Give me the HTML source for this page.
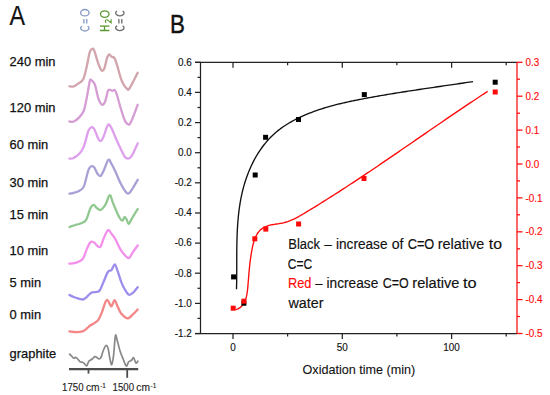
<!DOCTYPE html>
<html><head><meta charset="utf-8"><style>
html,body{margin:0;padding:0;background:#fff;width:550px;height:395px;overflow:hidden;}
#root{position:relative;width:550px;height:395px;font-family:"Liberation Sans",sans-serif;}
svg{position:absolute;left:0;top:0;display:block;}
</style></head><body><div id="root">
<svg width="550" height="395" viewBox="0 0 550 395">
<path d="M69.4,86.3 C70.1,86.3 72.2,87.0 73.7,86.5 C75.2,86.0 76.5,84.8 78.1,83.6 C79.7,82.4 81.8,82.2 83.2,79.3 C84.7,76.4 85.7,70.7 86.8,66.2 C87.9,61.7 88.8,55.3 89.7,52.4 C90.6,49.5 91.2,49.4 91.9,49.0 C92.6,48.6 93.1,48.1 94.1,50.2 C95.1,52.3 96.5,58.4 97.7,61.8 C98.9,65.1 100.3,69.2 101.4,70.3 C102.5,71.4 103.3,70.5 104.3,68.4 C105.3,66.3 106.3,59.8 107.2,57.5 C108.1,55.2 108.7,54.6 109.4,54.5 C110.1,54.4 110.7,56.1 111.5,56.7 C112.3,57.3 113.5,56.6 114.5,58.2 C115.5,59.8 116.2,62.5 117.4,66.2 C118.6,70.0 120.1,77.0 121.7,80.7 C123.3,84.5 125.5,87.5 126.8,88.7 C128.1,89.9 127.9,90.7 129.7,88.0 C131.5,85.3 136.4,75.2 137.7,72.7" fill="none" stroke="#d2a4ac" stroke-width="2.3" stroke-linejoin="round" stroke-linecap="round"/>
<path d="M69.4,121.5 C70.1,121.5 72.0,122.2 73.7,121.5 C75.4,120.8 77.8,118.9 79.5,117.1 C81.2,115.3 82.7,113.8 83.9,110.5 C85.1,107.2 85.8,102.3 86.8,97.5 C87.8,92.7 89.0,84.4 89.7,81.5 C90.4,78.6 90.4,79.5 91.2,80.0 C92.0,80.5 93.6,81.2 94.8,84.4 C96.0,87.6 97.3,95.5 98.5,98.9 C99.7,102.3 101.0,104.2 102.1,104.7 C103.2,105.2 104.0,104.1 105.0,101.8 C106.0,99.5 107.1,92.9 107.9,90.9 C108.8,88.9 109.4,89.9 110.1,89.9 C110.8,89.9 111.6,90.9 112.3,90.9 C113.0,90.9 113.8,89.4 114.5,89.9 C115.2,90.4 115.6,91.0 116.6,93.8 C117.6,96.6 119.0,102.5 120.3,106.9 C121.6,111.3 123.3,117.1 124.6,120.0 C125.9,122.9 127.2,124.2 128.3,124.4 C129.4,124.7 129.6,124.8 131.2,121.5 C132.8,118.2 136.6,107.5 137.7,104.7" fill="none" stroke="#d69cd4" stroke-width="2.3" stroke-linejoin="round" stroke-linecap="round"/>
<path d="M69.4,158.6 C70.1,158.5 72.0,158.8 73.7,157.9 C75.4,157.1 77.8,155.4 79.5,153.5 C81.2,151.6 82.4,150.1 83.9,146.3 C85.4,142.6 87.1,134.2 88.3,131.0 C89.5,127.8 90.2,127.8 91.2,127.4 C92.2,127.0 93.0,127.1 94.1,128.8 C95.2,130.5 96.6,135.4 97.7,137.5 C98.8,139.6 99.6,141.3 100.6,141.2 C101.6,141.1 102.3,139.5 103.5,136.8 C104.7,134.1 106.6,126.4 107.9,124.9 C109.2,123.5 110.3,126.1 111.5,128.1 C112.7,130.1 113.9,133.8 115.2,136.8 C116.5,139.8 117.9,143.0 119.5,146.3 C121.1,149.6 123.1,154.4 124.6,156.5 C126.1,158.6 127.1,158.7 128.3,158.6 C129.5,158.5 130.3,158.2 131.9,155.7 C133.5,153.2 136.7,145.4 137.7,143.4" fill="none" stroke="#de9fec" stroke-width="2.3" stroke-linejoin="round" stroke-linecap="round"/>
<path d="M69.4,193.6 C70.1,193.5 72.0,193.4 73.7,192.9 C75.4,192.4 77.8,191.8 79.5,190.7 C81.2,189.6 82.4,189.8 83.9,186.4 C85.4,183.0 87.1,173.8 88.3,170.4 C89.5,167.1 90.2,166.8 91.2,166.3 C92.2,165.8 93.0,165.9 94.1,167.2 C95.2,168.5 96.6,172.6 97.7,174.0 C98.8,175.4 99.6,176.4 100.6,175.9 C101.6,175.4 102.2,173.8 103.5,171.1 C104.8,168.4 107.0,161.1 108.3,159.9 C109.6,158.7 110.3,161.9 111.5,163.8 C112.7,165.7 113.7,167.9 115.2,171.1 C116.7,174.2 118.5,179.2 120.3,182.7 C122.1,186.2 124.6,190.4 126.1,192.2 C127.5,194.0 127.9,193.9 129.0,193.3 C130.1,192.7 131.2,190.8 132.6,188.5 C134.0,186.2 136.8,181.2 137.7,179.8" fill="none" stroke="#a9a1d6" stroke-width="2.3" stroke-linejoin="round" stroke-linecap="round"/>
<path d="M69.5,227.0 C70.0,226.8 71.6,226.2 72.6,225.9 C73.6,225.6 74.3,225.3 75.4,225.0 C76.5,224.7 77.8,224.4 79.1,224.0 C80.3,223.6 81.7,223.3 82.9,222.6 C84.1,221.9 85.2,221.3 86.1,219.8 C87.0,218.3 87.8,215.6 88.5,213.7 C89.2,211.8 89.6,209.6 90.4,208.1 C91.2,206.6 92.5,204.8 93.6,204.8 C94.7,204.8 95.7,207.2 96.9,208.1 C98.1,209.0 99.5,210.3 100.7,210.0 C102.0,209.7 103.4,207.4 104.4,206.2 C105.4,204.9 105.8,204.1 106.5,202.5 C107.2,200.9 107.9,197.8 108.6,196.6 C109.2,195.4 109.8,194.8 110.4,195.5 C111.0,196.2 111.5,198.9 112.3,201.0 C113.1,203.1 114.0,205.5 115.2,208.3 C116.4,211.1 118.3,215.6 119.5,217.7 C120.7,219.8 121.7,220.7 122.5,220.6 C123.3,220.5 123.9,217.1 124.6,217.0 C125.3,216.9 126.1,218.7 126.8,219.9 C127.5,221.1 127.8,224.2 128.7,224.0 C129.5,223.8 130.4,221.0 131.9,218.5 C133.4,216.0 136.7,210.6 137.7,209.0" fill="none" stroke="#90c890" stroke-width="2.3" stroke-linejoin="round" stroke-linecap="round"/>
<path d="M69.4,263.6 C70.4,263.5 73.0,263.6 75.2,262.9 C77.4,262.2 80.6,261.6 82.5,259.3 C84.4,257.0 85.5,252.0 86.8,249.1 C88.1,246.2 89.3,243.2 90.5,242.1 C91.7,241.0 92.9,241.8 94.1,242.5 C95.3,243.2 96.6,245.5 97.7,246.2 C98.8,246.9 99.6,247.7 100.6,246.5 C101.6,245.3 102.3,241.6 103.5,238.9 C104.7,236.2 106.6,231.0 107.9,230.2 C109.2,229.3 110.3,232.4 111.5,233.8 C112.7,235.2 113.7,236.4 115.2,238.9 C116.7,241.4 118.7,246.4 120.3,249.1 C121.9,251.8 123.1,253.4 124.6,254.9 C126.0,256.4 127.7,258.5 129.0,258.1 C130.3,257.7 131.2,254.8 132.6,252.7 C134.0,250.6 136.8,246.7 137.7,245.5" fill="none" stroke="#f390ec" stroke-width="2.3" stroke-linejoin="round" stroke-linecap="round"/>
<path d="M69.4,295.0 C70.4,295.4 73.0,296.8 75.2,297.5 C77.4,298.2 80.6,299.6 82.5,299.5 C84.4,299.4 85.3,298.1 86.8,297.0 C88.2,295.9 89.7,293.5 91.2,292.7 C92.7,291.9 94.6,292.4 96.0,292.0 C97.4,291.6 98.5,292.2 99.7,290.5 C101.0,288.8 102.1,285.1 103.5,282.0 C104.9,278.9 106.6,274.0 107.9,272.0 C109.2,270.0 110.4,271.3 111.5,270.0 C112.6,268.7 113.7,264.2 114.7,264.3 C115.7,264.4 116.4,267.6 117.4,270.4 C118.5,273.2 119.8,278.2 121.0,281.3 C122.2,284.4 123.3,286.8 124.6,289.0 C125.9,291.2 127.5,294.1 129.0,294.7 C130.5,295.3 132.0,293.6 133.4,292.4 C134.8,291.1 137.0,288.1 137.7,287.2" fill="none" stroke="#9c8eec" stroke-width="2.3" stroke-linejoin="round" stroke-linecap="round"/>
<path d="M69.4,331.4 C70.6,331.5 74.3,332.2 76.6,332.1 C78.9,332.1 81.5,331.7 83.2,331.1 C84.9,330.5 85.6,329.5 86.8,328.5 C88.0,327.5 89.2,326.2 90.5,325.3 C91.8,324.4 93.5,323.8 94.8,322.9 C96.1,322.0 97.3,321.6 98.5,319.7 C99.7,317.8 100.9,314.7 102.1,311.7 C103.3,308.7 104.7,303.4 105.7,301.5 C106.7,299.6 107.0,299.7 107.9,300.5 C108.8,301.3 110.2,306.4 111.3,306.3 C112.4,306.2 113.5,300.2 114.5,300.1 C115.5,300.0 116.3,303.7 117.4,305.9 C118.5,308.1 119.3,311.1 121.0,313.2 C122.7,315.3 125.7,317.9 127.5,318.3 C129.3,318.7 130.2,316.9 131.9,315.4 C133.6,313.9 136.7,310.5 137.7,309.5" fill="none" stroke="#f38686" stroke-width="2.3" stroke-linejoin="round" stroke-linecap="round"/>
<path d="M69.6,354.2 C69.9,354.5 71.0,355.5 71.7,356.2 C72.4,356.9 73.0,358.0 73.7,358.2 C74.4,358.4 75.0,357.3 75.7,357.4 C76.4,357.5 77.0,358.2 77.7,359.0 C78.5,359.8 79.4,361.3 80.2,361.9 C81.0,362.4 81.9,362.0 82.6,362.3 C83.3,362.6 83.9,363.3 84.6,363.9 C85.3,364.5 85.9,366.3 86.6,365.9 C87.3,365.5 88.1,362.4 88.7,361.5 C89.3,360.6 89.7,360.6 90.3,360.2 C90.9,359.8 91.6,359.6 92.3,359.0 C93.0,358.4 94.0,356.9 94.7,356.6 C95.5,356.3 96.0,357.0 96.8,357.4 C97.5,357.8 98.5,359.1 99.2,359.0 C99.9,358.9 100.6,358.1 101.2,357.0 C101.8,355.9 102.1,354.0 102.6,352.5 C103.1,351.0 103.8,349.0 104.4,347.8 C105.0,346.6 105.7,345.3 106.3,345.4 C106.9,345.5 107.5,346.2 108.1,348.4 C108.7,350.6 109.3,356.0 109.9,358.7 C110.5,361.4 111.1,365.2 111.7,364.6 C112.3,364.0 113.0,359.9 113.6,355.1 C114.2,350.3 114.8,338.0 115.4,335.6 C116.0,333.2 116.4,337.9 117.2,340.5 C118.0,343.1 119.2,348.4 120.2,351.5 C121.2,354.6 122.3,357.0 123.3,359.4 C124.3,361.8 125.4,365.6 126.3,366.0 C127.2,366.4 127.8,362.8 128.7,361.8 C129.6,360.8 131.0,360.7 131.8,360.0 C132.6,359.3 132.9,357.3 133.6,357.8 C134.3,358.3 135.3,362.4 136.0,363.0 C136.7,363.6 137.6,361.5 137.9,361.2" fill="none" stroke="#888888" stroke-width="1.7" stroke-linejoin="round" stroke-linecap="round"/>
<line x1="69" y1="369.1" x2="138.2" y2="369.1" stroke="#4c4c4c" stroke-width="2.2"/>
<line x1="88.5" y1="369" x2="88.5" y2="373.6" stroke="#4c4c4c" stroke-width="1.8"/>
<line x1="127.2" y1="369" x2="127.2" y2="377.8" stroke="#4c4c4c" stroke-width="1.8"/>
<line x1="195.0" y1="62.3" x2="517.0" y2="62.3" stroke="#222" stroke-width="1.25"/>
<line x1="195.0" y1="333.5" x2="517.0" y2="333.5" stroke="#222" stroke-width="1.25"/>
<line x1="200.5" y1="62.3" x2="200.5" y2="333.5" stroke="#222" stroke-width="1.25"/>
<line x1="195.0" y1="62.3" x2="200.5" y2="62.3" stroke="#222" stroke-width="1.25"/>
<line x1="197.5" y1="77.4" x2="200.5" y2="77.4" stroke="#222" stroke-width="1.25"/>
<line x1="195.0" y1="92.4" x2="200.5" y2="92.4" stroke="#222" stroke-width="1.25"/>
<line x1="197.5" y1="107.5" x2="200.5" y2="107.5" stroke="#222" stroke-width="1.25"/>
<line x1="195.0" y1="122.6" x2="200.5" y2="122.6" stroke="#222" stroke-width="1.25"/>
<line x1="197.5" y1="137.6" x2="200.5" y2="137.6" stroke="#222" stroke-width="1.25"/>
<line x1="195.0" y1="152.7" x2="200.5" y2="152.7" stroke="#222" stroke-width="1.25"/>
<line x1="197.5" y1="167.8" x2="200.5" y2="167.8" stroke="#222" stroke-width="1.25"/>
<line x1="195.0" y1="182.8" x2="200.5" y2="182.8" stroke="#222" stroke-width="1.25"/>
<line x1="197.5" y1="197.9" x2="200.5" y2="197.9" stroke="#222" stroke-width="1.25"/>
<line x1="195.0" y1="213.0" x2="200.5" y2="213.0" stroke="#222" stroke-width="1.25"/>
<line x1="197.5" y1="228.0" x2="200.5" y2="228.0" stroke="#222" stroke-width="1.25"/>
<line x1="195.0" y1="243.1" x2="200.5" y2="243.1" stroke="#222" stroke-width="1.25"/>
<line x1="197.5" y1="258.2" x2="200.5" y2="258.2" stroke="#222" stroke-width="1.25"/>
<line x1="195.0" y1="273.2" x2="200.5" y2="273.2" stroke="#222" stroke-width="1.25"/>
<line x1="197.5" y1="288.3" x2="200.5" y2="288.3" stroke="#222" stroke-width="1.25"/>
<line x1="195.0" y1="303.4" x2="200.5" y2="303.4" stroke="#222" stroke-width="1.25"/>
<line x1="197.5" y1="318.4" x2="200.5" y2="318.4" stroke="#222" stroke-width="1.25"/>
<line x1="195.0" y1="333.5" x2="200.5" y2="333.5" stroke="#222" stroke-width="1.25"/>
<line x1="233.0" y1="333.5" x2="233.0" y2="339.0" stroke="#222" stroke-width="1.25"/>
<line x1="233.0" y1="62.3" x2="233.0" y2="67.8" stroke="#222" stroke-width="1.25"/>
<line x1="287.6" y1="333.5" x2="287.6" y2="336.5" stroke="#222" stroke-width="1.25"/>
<line x1="287.6" y1="62.3" x2="287.6" y2="65.3" stroke="#222" stroke-width="1.25"/>
<line x1="342.3" y1="333.5" x2="342.3" y2="339.0" stroke="#222" stroke-width="1.25"/>
<line x1="342.3" y1="62.3" x2="342.3" y2="67.8" stroke="#222" stroke-width="1.25"/>
<line x1="396.9" y1="333.5" x2="396.9" y2="336.5" stroke="#222" stroke-width="1.25"/>
<line x1="396.9" y1="62.3" x2="396.9" y2="65.3" stroke="#222" stroke-width="1.25"/>
<line x1="451.6" y1="333.5" x2="451.6" y2="339.0" stroke="#222" stroke-width="1.25"/>
<line x1="451.6" y1="62.3" x2="451.6" y2="67.8" stroke="#222" stroke-width="1.25"/>
<line x1="506.2" y1="333.5" x2="506.2" y2="336.5" stroke="#222" stroke-width="1.25"/>
<line x1="506.2" y1="62.3" x2="506.2" y2="65.3" stroke="#222" stroke-width="1.25"/>
<line x1="517.0" y1="62.3" x2="517.0" y2="333.5" stroke="#ff0a0a" stroke-width="1.25"/>
<line x1="517.0" y1="62.3" x2="522.5" y2="62.3" stroke="#ff0a0a" stroke-width="1.25"/>
<line x1="517.0" y1="79.2" x2="520.0" y2="79.2" stroke="#ff0a0a" stroke-width="1.25"/>
<line x1="517.0" y1="96.2" x2="522.5" y2="96.2" stroke="#ff0a0a" stroke-width="1.25"/>
<line x1="517.0" y1="113.2" x2="520.0" y2="113.2" stroke="#ff0a0a" stroke-width="1.25"/>
<line x1="517.0" y1="130.1" x2="522.5" y2="130.1" stroke="#ff0a0a" stroke-width="1.25"/>
<line x1="517.0" y1="147.0" x2="520.0" y2="147.0" stroke="#ff0a0a" stroke-width="1.25"/>
<line x1="517.0" y1="164.0" x2="522.5" y2="164.0" stroke="#ff0a0a" stroke-width="1.25"/>
<line x1="517.0" y1="180.9" x2="520.0" y2="180.9" stroke="#ff0a0a" stroke-width="1.25"/>
<line x1="517.0" y1="197.9" x2="522.5" y2="197.9" stroke="#ff0a0a" stroke-width="1.25"/>
<line x1="517.0" y1="214.8" x2="520.0" y2="214.8" stroke="#ff0a0a" stroke-width="1.25"/>
<line x1="517.0" y1="231.8" x2="522.5" y2="231.8" stroke="#ff0a0a" stroke-width="1.25"/>
<line x1="517.0" y1="248.8" x2="520.0" y2="248.8" stroke="#ff0a0a" stroke-width="1.25"/>
<line x1="517.0" y1="265.7" x2="522.5" y2="265.7" stroke="#ff0a0a" stroke-width="1.25"/>
<line x1="517.0" y1="282.6" x2="520.0" y2="282.6" stroke="#ff0a0a" stroke-width="1.25"/>
<line x1="517.0" y1="299.6" x2="522.5" y2="299.6" stroke="#ff0a0a" stroke-width="1.25"/>
<line x1="517.0" y1="316.5" x2="520.0" y2="316.5" stroke="#ff0a0a" stroke-width="1.25"/>
<line x1="517.0" y1="333.5" x2="522.5" y2="333.5" stroke="#ff0a0a" stroke-width="1.25"/>
<g transform="translate(191.80,65.60) scale(0.900,1)"><text x="0" y="0" text-anchor="end" font-family="Liberation Sans" font-size="11" fill="#111" stroke="#111" stroke-width="0.15">0.6</text></g>
<g transform="translate(191.80,95.73) scale(0.900,1)"><text x="0" y="0" text-anchor="end" font-family="Liberation Sans" font-size="11" fill="#111" stroke="#111" stroke-width="0.15">0.4</text></g>
<g transform="translate(191.80,125.87) scale(0.900,1)"><text x="0" y="0" text-anchor="end" font-family="Liberation Sans" font-size="11" fill="#111" stroke="#111" stroke-width="0.15">0.2</text></g>
<g transform="translate(191.80,156.00) scale(0.900,1)"><text x="0" y="0" text-anchor="end" font-family="Liberation Sans" font-size="11" fill="#111" stroke="#111" stroke-width="0.15">0.0</text></g>
<g transform="translate(191.80,186.13) scale(0.900,1)"><text x="0" y="0" text-anchor="end" font-family="Liberation Sans" font-size="11" fill="#111" stroke="#111" stroke-width="0.15">-0.2</text></g>
<g transform="translate(191.80,216.27) scale(0.900,1)"><text x="0" y="0" text-anchor="end" font-family="Liberation Sans" font-size="11" fill="#111" stroke="#111" stroke-width="0.15">-0.4</text></g>
<g transform="translate(191.80,246.40) scale(0.900,1)"><text x="0" y="0" text-anchor="end" font-family="Liberation Sans" font-size="11" fill="#111" stroke="#111" stroke-width="0.15">-0.6</text></g>
<g transform="translate(191.80,276.53) scale(0.900,1)"><text x="0" y="0" text-anchor="end" font-family="Liberation Sans" font-size="11" fill="#111" stroke="#111" stroke-width="0.15">-0.8</text></g>
<g transform="translate(191.80,306.67) scale(0.900,1)"><text x="0" y="0" text-anchor="end" font-family="Liberation Sans" font-size="11" fill="#111" stroke="#111" stroke-width="0.15">-1.0</text></g>
<g transform="translate(191.80,336.80) scale(0.900,1)"><text x="0" y="0" text-anchor="end" font-family="Liberation Sans" font-size="11" fill="#111" stroke="#111" stroke-width="0.15">-1.2</text></g>
<g transform="translate(525.50,65.90) scale(0.900,1)"><text x="0" y="0" text-anchor="start" font-family="Liberation Sans" font-size="11" fill="#ff0a0a" stroke="#ff0a0a" stroke-width="0.15">0.3</text></g>
<g transform="translate(525.50,99.80) scale(0.900,1)"><text x="0" y="0" text-anchor="start" font-family="Liberation Sans" font-size="11" fill="#ff0a0a" stroke="#ff0a0a" stroke-width="0.15">0.2</text></g>
<g transform="translate(525.50,133.70) scale(0.900,1)"><text x="0" y="0" text-anchor="start" font-family="Liberation Sans" font-size="11" fill="#ff0a0a" stroke="#ff0a0a" stroke-width="0.15">0.1</text></g>
<g transform="translate(525.50,167.60) scale(0.900,1)"><text x="0" y="0" text-anchor="start" font-family="Liberation Sans" font-size="11" fill="#ff0a0a" stroke="#ff0a0a" stroke-width="0.15">0.0</text></g>
<g transform="translate(525.50,201.50) scale(0.900,1)"><text x="0" y="0" text-anchor="start" font-family="Liberation Sans" font-size="11" fill="#ff0a0a" stroke="#ff0a0a" stroke-width="0.15">-0.1</text></g>
<g transform="translate(525.50,235.40) scale(0.900,1)"><text x="0" y="0" text-anchor="start" font-family="Liberation Sans" font-size="11" fill="#ff0a0a" stroke="#ff0a0a" stroke-width="0.15">-0.2</text></g>
<g transform="translate(525.50,269.30) scale(0.900,1)"><text x="0" y="0" text-anchor="start" font-family="Liberation Sans" font-size="11" fill="#ff0a0a" stroke="#ff0a0a" stroke-width="0.15">-0.3</text></g>
<g transform="translate(525.50,303.20) scale(0.900,1)"><text x="0" y="0" text-anchor="start" font-family="Liberation Sans" font-size="11" fill="#ff0a0a" stroke="#ff0a0a" stroke-width="0.15">-0.4</text></g>
<g transform="translate(525.50,337.10) scale(0.900,1)"><text x="0" y="0" text-anchor="start" font-family="Liberation Sans" font-size="11" fill="#ff0a0a" stroke="#ff0a0a" stroke-width="0.15">-0.5</text></g>
<g transform="translate(233.00,351.30) scale(0.900,1)"><text x="0" y="0" text-anchor="middle" font-family="Liberation Sans" font-size="11" fill="#111" stroke="#111" stroke-width="0.15">0</text></g>
<g transform="translate(342.30,351.30) scale(0.900,1)"><text x="0" y="0" text-anchor="middle" font-family="Liberation Sans" font-size="11" fill="#111" stroke="#111" stroke-width="0.15">50</text></g>
<g transform="translate(451.60,351.30) scale(0.900,1)"><text x="0" y="0" text-anchor="middle" font-family="Liberation Sans" font-size="11" fill="#111" stroke="#111" stroke-width="0.15">100</text></g>
<g transform="translate(358.90,373.60) scale(0.970,1)"><text x="0" y="0" text-anchor="middle" font-family="Liberation Sans" font-size="13" fill="#111" stroke="#111" stroke-width="0.1">Oxidation time (min)</text></g>
<path d="M236.49,289.19 L236.54,287.35 L236.59,285.51 L236.62,283.67 L236.65,281.82 L236.68,279.98 L236.70,278.12 L236.72,276.27 L236.73,274.41 L236.74,272.55 L236.74,270.68 L236.75,268.81 L236.75,266.94 L236.75,265.07 L236.75,263.20 L236.75,261.33 L236.76,259.45 L236.76,257.57 L236.76,255.69 L236.77,253.81 L236.78,251.93 L236.80,250.05 L236.82,248.16 L236.84,246.28 L236.87,244.40 L236.91,242.51 L236.95,240.63 L237.00,238.74 L237.06,236.86 L237.12,234.98 L237.20,233.09 L237.28,231.21 L237.38,229.33 L237.48,227.45 L237.60,225.57 L237.73,223.69 L237.87,221.82 L238.02,219.94 L238.19,218.07 L238.37,216.20 L238.56,214.33 L238.78,212.47 L239.00,210.60 L239.25,208.74 L239.51,206.88 L239.79,205.03 L240.08,203.18 L240.40,201.33 L240.74,199.48 L241.09,197.64 L241.47,195.80 L241.86,193.97 L242.28,192.14 L242.72,190.32 L243.19,188.49 L243.67,186.68 L244.19,184.87 L244.72,183.06 L245.28,181.26 L245.87,179.47 L246.48,177.68 L247.11,175.90 L247.77,174.14 L248.45,172.38 L249.16,170.63 L249.90,168.90 L250.66,167.17 L251.45,165.46 L252.26,163.77 L253.09,162.09 L253.96,160.42 L254.85,158.77 L255.76,157.14 L256.71,155.52 L257.68,153.93 L258.67,152.35 L259.69,150.79 L260.74,149.26 L261.82,147.74 L262.92,146.25 L264.06,144.78 L265.21,143.34 L266.40,141.92 L267.61,140.52 L268.86,139.15 L270.13,137.81 L271.42,136.50 L272.75,135.21 L274.11,133.96 L275.49,132.73 L276.90,131.54 L278.34,130.37 L279.81,129.24 L281.30,128.13 L282.81,127.06 L284.35,126.01 L285.91,124.98 L287.49,123.99 L289.09,123.02 L290.71,122.08 L292.34,121.16 L294.00,120.26 L295.66,119.39 L297.35,118.54 L299.04,117.72 L300.75,116.92 L302.46,116.14 L304.19,115.38 L305.92,114.64 L307.66,113.92 L309.41,113.21 L311.16,112.53 L312.93,111.87 L314.69,111.22 L316.46,110.59 L318.24,109.98 L320.02,109.38 L321.81,108.80 L323.61,108.24 L325.40,107.69 L327.20,107.15 L329.01,106.63 L330.82,106.12 L332.64,105.63 L334.45,105.14 L336.27,104.67 L338.10,104.21 L339.93,103.76 L341.76,103.33 L343.59,102.90 L345.42,102.48 L347.26,102.07 L349.10,101.67 L350.94,101.27 L352.78,100.89 L354.62,100.51 L356.47,100.14 L358.31,99.77 L360.16,99.41 L362.01,99.05 L363.85,98.70 L365.70,98.35 L367.54,98.01 L369.39,97.67 L371.23,97.33 L373.08,97.00 L374.92,96.67 L376.77,96.34 L378.61,96.02 L380.46,95.70 L382.30,95.38 L384.15,95.06 L385.99,94.75 L387.83,94.44 L389.68,94.13 L391.52,93.83 L393.37,93.52 L395.21,93.22 L397.06,92.93 L398.90,92.63 L400.75,92.34 L402.59,92.04 L404.44,91.75 L406.28,91.47 L408.13,91.18 L409.97,90.89 L411.82,90.61 L413.67,90.33 L415.51,90.05 L417.36,89.77 L419.21,89.49 L421.06,89.21 L422.90,88.94 L424.75,88.66 L426.60,88.39 L428.45,88.11 L430.30,87.84 L432.16,87.57 L434.01,87.30 L435.86,87.03 L437.71,86.76 L439.57,86.49 L441.42,86.22 L443.28,85.95 L445.14,85.68 L446.99,85.41 L448.85,85.14 L450.71,84.87 L452.57,84.60 L454.43,84.32 L456.29,84.05 L458.15,83.78 L460.02,83.51 L461.88,83.23 L463.75,82.96 L465.61,82.69 L467.48,82.41 L469.35,82.13 L471.22,81.85 L473.09,81.58" fill="none" stroke="#111" stroke-width="1.35"/>
<path d="M235.91,309.72 L238.10,308.84 L239.98,307.70 L241.58,306.31 L242.93,304.73 L244.06,302.97 L244.98,301.06 L245.74,299.04 L246.34,296.92 L246.82,294.71 L247.20,292.45 L247.49,290.16 L247.73,287.85 L247.93,285.54 L248.12,283.26 L248.31,281.00 L248.49,278.76 L248.67,276.54 L248.85,274.34 L249.04,272.15 L249.24,269.96 L249.45,267.78 L249.67,265.60 L249.91,263.42 L250.18,261.23 L250.46,259.03 L250.77,256.82 L251.11,254.59 L251.48,252.34 L251.89,250.07 L252.34,247.77 L252.84,245.48 L253.41,243.21 L254.06,240.98 L254.81,238.82 L255.68,236.76 L256.66,234.80 L257.79,232.99 L259.08,231.33 L260.53,229.85 L262.14,228.56 L263.90,227.45 L265.79,226.52 L267.79,225.77 L269.89,225.18 L272.07,224.71 L274.30,224.33 L276.56,223.99 L278.84,223.66 L281.10,223.28 L283.33,222.81 L285.50,222.25 L287.64,221.58 L289.72,220.81 L291.78,219.97 L293.79,219.06 L295.79,218.08 L297.75,217.05 L299.70,215.98 L301.63,214.87 L303.55,213.74 L305.46,212.60 L307.37,211.45 L309.28,210.29 L311.18,209.14 L313.08,207.97 L314.98,206.81 L316.88,205.64 L318.78,204.47 L320.67,203.29 L322.57,202.11 L324.46,200.93 L326.35,199.74 L328.23,198.55 L330.12,197.36 L332.00,196.17 L333.88,194.97 L335.76,193.76 L337.64,192.56 L339.52,191.35 L341.39,190.14 L343.27,188.93 L345.14,187.71 L347.01,186.49 L348.88,185.27 L350.74,184.05 L352.61,182.82 L354.48,181.59 L356.34,180.36 L358.20,179.13 L360.06,177.89 L361.92,176.66 L363.78,175.42 L365.64,174.17 L367.49,172.93 L369.35,171.69 L371.20,170.44 L373.06,169.19 L374.91,167.94 L376.76,166.69 L378.61,165.44 L380.46,164.18 L382.31,162.93 L384.16,161.67 L386.01,160.41 L387.86,159.15 L389.70,157.89 L391.55,156.63 L393.39,155.37 L395.24,154.11 L397.08,152.84 L398.93,151.58 L400.77,150.31 L402.61,149.05 L404.46,147.78 L406.30,146.52 L408.14,145.25 L409.98,143.98 L411.82,142.71 L413.67,141.45 L415.51,140.18 L417.35,138.91 L419.19,137.64 L421.03,136.37 L422.87,135.11 L424.71,133.84 L426.56,132.57 L428.40,131.31 L430.24,130.04 L432.08,128.77 L433.92,127.51 L435.77,126.24 L437.61,124.98 L439.45,123.72 L441.30,122.46 L443.14,121.19 L444.99,119.93 L446.83,118.68 L448.68,117.42 L450.52,116.16 L452.37,114.90 L454.22,113.65 L456.07,112.40 L457.91,111.15 L459.76,109.90 L461.62,108.65 L463.47,107.40 L465.32,106.16 L467.17,104.91 L469.03,103.67 L470.88,102.43 L472.74,101.20 L474.60,99.96 L476.45,98.73 L478.31,97.50 L480.17,96.27 L482.04,95.04 L483.90,93.82 L485.76,92.60 L487.63,91.38" fill="none" stroke="#ff0a0a" stroke-width="1.35"/>
<rect x="231.1" y="274.4" width="5" height="5" fill="#000"/>
<rect x="241.4" y="300.7" width="5" height="5" fill="#000"/>
<rect x="252.7" y="172.5" width="5" height="5" fill="#000"/>
<rect x="263.1" y="134.8" width="5" height="5" fill="#000"/>
<rect x="296.0" y="117.0" width="5" height="5" fill="#000"/>
<rect x="361.8" y="92.1" width="5" height="5" fill="#000"/>
<rect x="492.7" y="79.7" width="5" height="5" fill="#000"/>
<rect x="230.7" y="305.7" width="5" height="5" fill="#ff0a0a"/>
<rect x="241.4" y="298.7" width="5" height="5" fill="#ff0a0a"/>
<rect x="252.3" y="236.3" width="5" height="5" fill="#ff0a0a"/>
<rect x="263.3" y="226.6" width="5" height="5" fill="#ff0a0a"/>
<rect x="296.1" y="221.5" width="5" height="5" fill="#ff0a0a"/>
<rect x="361.5" y="176.0" width="5" height="5" fill="#ff0a0a"/>
<rect x="492.7" y="89.5" width="5" height="5" fill="#ff0a0a"/>
<text x="9.6" y="66.3" font-family="Liberation Sans" font-size="12.9" fill="#111" stroke="#111" stroke-width="0.25">240 min</text>
<text x="9.6" y="112.4" font-family="Liberation Sans" font-size="12.9" fill="#111" stroke="#111" stroke-width="0.25">120 min</text>
<text x="9.6" y="148.6" font-family="Liberation Sans" font-size="12.9" fill="#111" stroke="#111" stroke-width="0.25">60 min</text>
<text x="9.6" y="187.1" font-family="Liberation Sans" font-size="12.9" fill="#111" stroke="#111" stroke-width="0.25">30 min</text>
<text x="9.6" y="218.6" font-family="Liberation Sans" font-size="12.9" fill="#111" stroke="#111" stroke-width="0.25">15 min</text>
<text x="9.6" y="254.6" font-family="Liberation Sans" font-size="12.9" fill="#111" stroke="#111" stroke-width="0.25">10 min</text>
<text x="9.6" y="286.8" font-family="Liberation Sans" font-size="12.9" fill="#111" stroke="#111" stroke-width="0.25">5 min</text>
<text x="9.6" y="319.3" font-family="Liberation Sans" font-size="12.9" fill="#111" stroke="#111" stroke-width="0.25">0 min</text>
<text x="9.6" y="357.7" font-family="Liberation Sans" font-size="12.9" fill="#111" stroke="#111" stroke-width="0.25">graphite</text>
<g transform="translate(9.5,25.0) scale(0.85,1)"><text x="0" y="0" font-family="Liberation Sans" font-size="27.4" fill="#111" stroke="#111" stroke-width="0.2">A</text></g>
<g transform="translate(169.9,33.0) scale(0.84,1)"><text x="0" y="0" font-family="Liberation Sans" font-size="26.6" fill="#111" stroke="#111" stroke-width="0.45">B</text></g>
<g fill="none" stroke="#8598c2" stroke-width="1.3"><ellipse cx="84.85" cy="12.7" rx="4.2" ry="3.2"/><line x1="83.9" y1="18.9" x2="83.9" y2="23.6"/><line x1="86.75" y1="18.9" x2="86.75" y2="23.6"/><path d="M82.04,26.23 A4.20,2.65 0 1 0 87.66,26.23"/></g>
<g fill="none" stroke="#5b9830" stroke-width="1.3"><ellipse cx="104.75" cy="14.1" rx="4.25" ry="3.25"/><path d="M106.3,22.7 C105.0,22.4 104.9,19.6 106.9,19.8 C107.8,19.9 108.2,20.6 108.6,20.9 L111.1,22.8 L111.1,19.3" stroke-width="1.15"/><line x1="100" y1="26.1" x2="109.4" y2="26.1"/><line x1="100" y1="30.5" x2="109.4" y2="30.5" stroke-width="1.5"/><line x1="104.5" y1="26.1" x2="104.5" y2="30.5"/></g>
<g fill="none" stroke="#6c6c6c" stroke-width="1.3"><path d="M117.04,11.03 A4.20,2.65 0 1 0 122.66,11.03"/><line x1="118.9" y1="18.9" x2="118.9" y2="23.6"/><line x1="121.8" y1="18.9" x2="121.8" y2="23.6"/><path d="M117.04,25.83 A4.20,2.65 0 1 0 122.66,25.83"/></g>
<text y="390.8" font-family="Liberation Sans" font-size="10" fill="#222" stroke="#222" stroke-width="0.12"><tspan x="62.1" textLength="21.4" lengthAdjust="spacingAndGlyphs">1750</tspan><tspan x="85.9" textLength="13.6" lengthAdjust="spacingAndGlyphs">cm</tspan><tspan x="100.2" y="387.6" font-size="6.5">-1</tspan></text>
<text y="390.8" font-family="Liberation Sans" font-size="10" fill="#222" stroke="#222" stroke-width="0.12"><tspan x="112.6" textLength="21.4" lengthAdjust="spacingAndGlyphs">1500</tspan><tspan x="136.3" textLength="13.6" lengthAdjust="spacingAndGlyphs">cm</tspan><tspan x="150.6" y="387.6" font-size="6.5">-1</tspan></text>
<g transform="translate(288.30,248.90) scale(0.8957,1)"><text x="0" y="0" font-family="Liberation Sans" font-size="14.5" fill="#111" stroke="#111" stroke-width="0.15">Black</text></g>
<g transform="translate(324.20,248.90) scale(0.9333,1)"><text x="0" y="0" font-family="Liberation Sans" font-size="14.5" fill="#111" stroke="#111" stroke-width="0.15">–</text></g>
<g transform="translate(335.96,248.90) scale(0.9408,1)"><text x="0" y="0" font-family="Liberation Sans" font-size="14.5" fill="#111" stroke="#111" stroke-width="0.15">increase</text></g>
<g transform="translate(391.71,248.90) scale(0.9787,1)"><text x="0" y="0" font-family="Liberation Sans" font-size="14.5" fill="#111" stroke="#111" stroke-width="0.15">of</text></g>
<g transform="translate(407.64,248.90) scale(0.8835,1)"><text x="0" y="0" font-family="Liberation Sans" font-size="14.5" fill="#111" stroke="#111" stroke-width="0.15">C=O</text></g>
<g transform="translate(437.70,248.90) scale(0.9967,1)"><text x="0" y="0" font-family="Liberation Sans" font-size="14.5" fill="#111" stroke="#111" stroke-width="0.15">relative</text></g>
<g transform="translate(488.73,248.90) scale(1.0933,1)"><text x="0" y="0" font-family="Liberation Sans" font-size="14.5" fill="#111" stroke="#111" stroke-width="0.15">to</text></g>
<g transform="translate(287.78,268.60) scale(0.8283,1)"><text x="0" y="0" font-family="Liberation Sans" font-size="14.5" fill="#111" stroke="#111" stroke-width="0.15">C=C</text></g>
<g transform="translate(288.02,288.40) scale(0.8808,1)"><text x="0" y="0" font-family="Liberation Sans" font-size="14.5" fill="#ff0a0a" stroke="#ff0a0a" stroke-width="0.15">Red</text></g>
<g transform="translate(315.30,288.40) scale(0.9091,1)"><text x="0" y="0" font-family="Liberation Sans" font-size="14.5" fill="#111" stroke="#111" stroke-width="0.15">–</text></g>
<g transform="translate(326.45,288.40) scale(0.9465,1)"><text x="0" y="0" font-family="Liberation Sans" font-size="14.5" fill="#111" stroke="#111" stroke-width="0.15">increase</text></g>
<g transform="translate(382.66,288.40) scale(0.8591,1)"><text x="0" y="0" font-family="Liberation Sans" font-size="14.5" fill="#111" stroke="#111" stroke-width="0.15">C=O</text></g>
<g transform="translate(412.29,288.40) scale(1.0099,1)"><text x="0" y="0" font-family="Liberation Sans" font-size="14.5" fill="#111" stroke="#111" stroke-width="0.15">relative</text></g>
<g transform="translate(463.02,288.40) scale(1.1289,1)"><text x="0" y="0" font-family="Liberation Sans" font-size="14.5" fill="#111" stroke="#111" stroke-width="0.15">to</text></g>
<g transform="translate(288.40,308.30) scale(0.9901,1)"><text x="0" y="0" font-family="Liberation Sans" font-size="14.5" fill="#111" stroke="#111" stroke-width="0.15">water</text></g>
</svg>
</div></body></html>
